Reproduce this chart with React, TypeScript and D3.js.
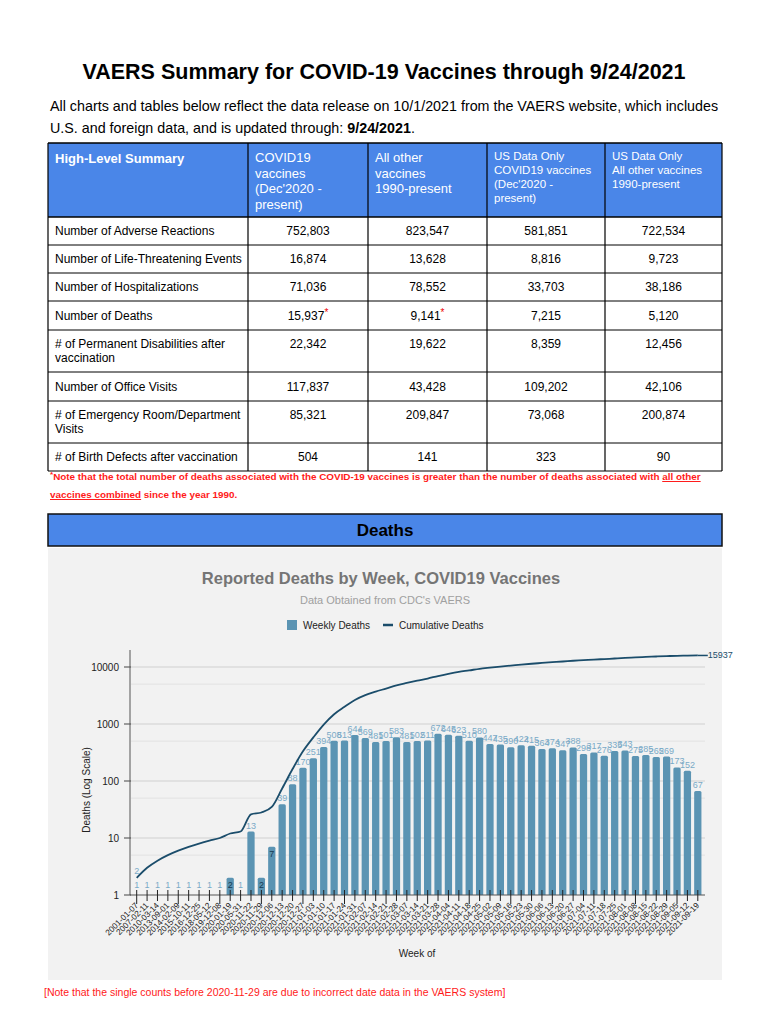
import * as d3 from 'd3';

const weeks = [
  '2001-01-07', '2007-02-11', '2010-03-14', '2013-09-01', '2014-02-09', '2015-10-11', '2016-12-25', '2018-05-12',
  '2019-12-08', '2020-01-19', '2020-05-31', '2020-11-22', '2020-11-29', '2020-12-06', '2020-12-13', '2020-12-20',
  '2020-12-27', '2021-01-03', '2021-01-10', '2021-01-17', '2021-01-24', '2021-01-31', '2021-02-07', '2021-02-14',
  '2021-02-21', '2021-02-28', '2021-03-07', '2021-03-14', '2021-03-21', '2021-03-28', '2021-04-04', '2021-04-11',
  '2021-04-18', '2021-04-25', '2021-05-02', '2021-05-09', '2021-05-16', '2021-05-23', '2021-05-30', '2021-06-06',
  '2021-06-13', '2021-06-20', '2021-06-27', '2021-07-04', '2021-07-11', '2021-07-18', '2021-07-25', '2021-08-01',
  '2021-08-08', '2021-08-15', '2021-08-22', '2021-08-29', '2021-09-05', '2021-09-12', '2021-09-19',
];

const weeklyDeaths = [
  1, 1, 1, 1, 1, 1, 1, 1, 1, 2, 1, 13, 2, 7, 39, 88, 170, 251, 394, 508, 513, 644, 569, 481, 501, 583, 481, 502, 511,
  672, 645, 623, 510, 580, 447, 435, 390, 422, 415, 364, 374, 347, 388, 298, 317, 276, 335, 343, 275, 285, 265, 269,
  173, 152, 67,
];

const cumulativeDeaths = [
  2, 3, 4, 5, 6, 7, 8, 9, 10, 12, 13, 26, 28, 35, 74, 162, 332, 583, 977, 1485, 1998, 2642, 3211, 3692, 4193, 4776,
  5257, 5759, 6270, 6942, 7587, 8210, 8720, 9300, 9747, 10182, 10572, 10994, 11409, 11773, 12147, 12494, 12882,
  13180, 13497, 13773, 14108, 14451, 14726, 15011, 15276, 15545, 15718, 15870, 15937,
];

const yTicks = [1, 10, 100, 1000, 10000];
const yMinor = [5, 50, 500, 5000];

const rowLabels = [
  ['Number of Adverse Reactions'],
  ['Number of Life-Threatening Events'],
  ['Number of Hospitalizations'],
  ['Number of Deaths'],
  ['# of Permanent Disabilities after', 'vaccination'],
  ['Number of Office Visits'],
  ['# of Emergency Room/Department', 'Visits'],
  ['# of Birth Defects after vaccination'],
];
const covidVals = ['752,803', '16,874', '71,036', '15,937', '22,342', '117,837', '85,321', '504'];
const otherVals = ['823,547', '13,628', '78,552', '9,141', '19,622', '43,428', '209,847', '141'];
const usCovidVals = ['581,851', '8,816', '33,703', '7,215', '8,359', '109,202', '73,068', '323'];
const usOtherVals = ['722,534', '9,723', '38,186', '5,120', '12,456', '42,106', '200,874', '90'];
const starred = [3];

const headers = [
  { lines: ['High-Level Summary'], size: 13, lh: 15, y0: 163 },
  { lines: ['COVID19', 'vaccines', "(Dec'2020 -", 'present)'], size: 13, lh: 15.5, y0: 162 },
  { lines: ['All other', 'vaccines', '1990-present'], size: 13, lh: 15.5, y0: 162 },
  { lines: ['US Data Only', 'COVID19 vaccines', "(Dec'2020 -", 'present)'], size: 11.5, lh: 14, y0: 160 },
  { lines: ['US Data Only', 'All other vaccines', '1990-present'], size: 11.5, lh: 14, y0: 160 },
];

const FONT = '"Liberation Sans", Arial, sans-serif';
const BLUE = '#4a86e8';

function SummaryTable() {
  const colX = [48, 248, 368, 487, 605, 722];
  const rowY = [143, 217, 245, 273, 301, 330, 372, 401, 443, 471];
  const cols = [covidVals, otherVals, usCovidVals, usOtherVals];
  return (
    <g fontFamily={FONT}>
      <rect x={colX[0]} y={rowY[0]} width={colX[5] - colX[0]} height={rowY[1] - rowY[0]} fill={BLUE} />
      {headers.map((h, i) => (
        <text key={i} fill="#fff" fontSize={h.size} fontWeight={i === 0 ? 'bold' : 'normal'}>
          {h.lines.map((l, j) => (
            <tspan key={j} x={colX[i] + 7} y={h.y0 + j * h.lh}>{l}</tspan>
          ))}
        </text>
      ))}
      {rowLabels.map((lab, r) => {
        const top = rowY[r + 1], bot = rowY[r + 2];
        const mid = (top + bot) / 2;
        return (
          <g key={r}>
            <text fontSize={12} fill="#000">
              {lab.map((l, j) => (
                <tspan key={j} x={colX[0] + 7} y={mid + 4 + (j - (lab.length - 1) / 2) * 14}>{l}</tspan>
              ))}
            </text>
            {cols.map((c, k) => (
              <text key={k} x={(colX[k + 1] + colX[k + 2]) / 2} y={lab.length > 1 ? top + 18 : mid + 4}
                textAnchor="middle" fontSize={12} fill="#000">
                {c[r]}
                {starred.includes(r) && k < 2 ? <tspan fill="#e00" dy={-4} fontSize={10}>*</tspan> : null}
              </text>
            ))}
          </g>
        );
      })}
      {rowY.map((y, i) => (
        <line key={'h' + i} x1={colX[0]} x2={colX[5]} y1={y} y2={y} stroke="#000" strokeWidth={i < 2 ? 1.5 : 1} />
      ))}
      {colX.map((x, i) => (
        <line key={'v' + i} x1={x} x2={x} y1={rowY[0]} y2={rowY[rowY.length - 1]} stroke="#000" strokeWidth={1.2} />
      ))}
    </g>
  );
}

function DeathsChart() {
  const x = d3.scaleBand<string>().domain(weeks).range([131.5, 703]).paddingInner(0.3).paddingOuter(0.15);
  const y = d3.scaleLog().domain([1, 10000]).range([895, 667]);
  const bw = x.bandwidth();
  const cx = (d: string) => (x(d) ?? 0) + bw / 2;
  const line = d3.line<number>().x((_, i) => cx(weeks[i])).y(d => y(d)).curve(d3.curveMonotoneX);
  const last = weeks.length - 1;
  return (
    <g fontFamily={FONT}>
      <rect x={48} y={548} width={674} height={432} fill="#f2f2f2" />
      <text x={381} y={584} textAnchor="middle" fontSize={16.5} fontWeight="bold" fill="#757575">
        Reported Deaths by Week, COVID19 Vaccines
      </text>
      <text x={385} y={604} textAnchor="middle" fontSize={11} fill="#a0a0a0">Data Obtained from CDC's VAERS</text>
      <rect x={287} y={620} width={10} height={10} fill="#5b94b3" />
      <text x={303} y={628.5} fontSize={10} fill="#222">Weekly Deaths</text>
      <line x1={383} x2={393} y1={625} y2={625} stroke="#1b4d6b" strokeWidth={2.5} />
      <text x={399} y={628.5} fontSize={10} fill="#222">Cumulative Deaths</text>

      {yMinor.map(t => (
        <line key={'m' + t} x1={131} x2={705} y1={y(t)} y2={y(t)} stroke="#e2e2e2" strokeWidth={1} />
      ))}
      {yTicks.slice(1).map(t => (
        <line key={'g' + t} x1={131} x2={705} y1={y(t)} y2={y(t)} stroke="#d0d0d0" strokeWidth={1} />
      ))}
      {yTicks.map(t => (
        <g key={t}>
          <line x1={124} x2={131} y1={y(t)} y2={y(t)} stroke="#444" />
          <text x={119} y={y(t) + 3.5} textAnchor="end" fontSize={10} fill="#222">{t}</text>
        </g>
      ))}
      <line x1={130} x2={130} y1={650} y2={895} stroke="#555" />
      <text transform={`translate(90,790) rotate(-90)`} textAnchor="middle" fontSize={10} fill="#222">
        Deaths (Log Scale)
      </text>

      {weeks.map((d, i) => {
        const v = weeklyDeaths[i];
        const top = y(v);
        const h = 895 - top;
        const inside = v > 1 && v < 10;
        const ly = inside ? top + 10 : Math.min(top - 3, 888);
        return (
          <g key={d}>
            {h > 0 && <path d={`M${x(d)},895V${top + 1.5}q0,-1.5 1.5,-1.5h${bw - 3}q1.5,0 1.5,1.5V895Z`} fill="#5b94b3" />}
            <text x={cx(d)} y={ly} textAnchor="middle" fontSize={9} fill={inside ? '#173a52' : '#7aaac7'}>{v}</text>
          </g>
        );
      })}

      <path d={line(cumulativeDeaths) ?? ''} fill="none" stroke="#1b4d6b" strokeWidth={1.8} />
      <text x={cx(weeks[0])} y={y(cumulativeDeaths[0]) - 4} textAnchor="middle" fontSize={9} fill="#7aaac7">
        {cumulativeDeaths[0]}
      </text>
      <line x1={cx(weeks[last])} x2={cx(weeks[last]) + 10} y1={y(cumulativeDeaths[last])} y2={y(cumulativeDeaths[last])} stroke="#1b4d6b" strokeWidth={1.5} />
      <text x={cx(weeks[last]) + 10} y={y(cumulativeDeaths[last]) + 3} fontSize={9} fill="#1b4d6b">
        {cumulativeDeaths[last]}
      </text>

      <line x1={130} x2={705} y1={895} y2={895} stroke="#555" strokeWidth={1.2} />
      {weeks.map((d, i) => (
        <g key={'t' + d}>
          <line x1={cx(d)} x2={cx(d)} y1={890} y2={i % 4 === 0 ? 904 : 901} stroke="#222" />
          <text transform={`translate(${cx(d) + 2},${906}) rotate(-45)`} textAnchor="end" fontSize={8.3} fill="#222">{d}</text>
        </g>
      ))}
      <text x={417} y={957} textAnchor="middle" fontSize={10} fill="#222">Week of</text>
    </g>
  );
}

export default function App() {
  return (
    <svg width={768} height={1024} style={{ position: 'absolute', left: 0, top: 0, background: '#fff' }}>
      <rect width={768} height={1024} fill="#fff" />
      <text x={384} y={79} textAnchor="middle" fontFamily={FONT} fontSize={21.5} fontWeight="bold" fill="#000">
        VAERS Summary for COVID-19 Vaccines through 9/24/2021
      </text>
      <text fontFamily={FONT} fontSize={14.3} fill="#000">
        <tspan x={50} y={111}>All charts and tables below reflect the data release on 10/1/2021 from the VAERS website, which includes</tspan>
        <tspan x={50} y={133}>U.S. and foreign data, and is updated through: </tspan>
        <tspan fontWeight="bold">9/24/2021</tspan>
        <tspan>.</tspan>
      </text>
      <SummaryTable />
      <text fontFamily={FONT} fontSize={9.9} fontWeight="bold" fill="#ff1a1a">
        <tspan x={50} y={480} fontSize={8} dy={-3}>*</tspan>
        <tspan dy={3}>Note that the total number of deaths associated with the COVID-19 vaccines is greater than the number of deaths associated with </tspan>
        <tspan textDecoration="underline">all other</tspan>
        <tspan x={50} y={498} textDecoration="underline">vaccines combined</tspan>
        <tspan> since the year 1990.</tspan>
      </text>
      <rect x={48} y={514} width={674} height={32} fill={BLUE} stroke="#111" strokeWidth={1.5} />
      <text x={385} y={536} textAnchor="middle" fontFamily={FONT} fontSize={17} fontWeight="bold" fill="#000">Deaths</text>
      <DeathsChart />
      <text x={44} y={996} fontFamily={FONT} fontSize={10.5} fill="#ff1a1a">
        [Note that the single counts before 2020-11-29 are due to incorrect date data in the VAERS system]
      </text>
    </svg>
  );
}
